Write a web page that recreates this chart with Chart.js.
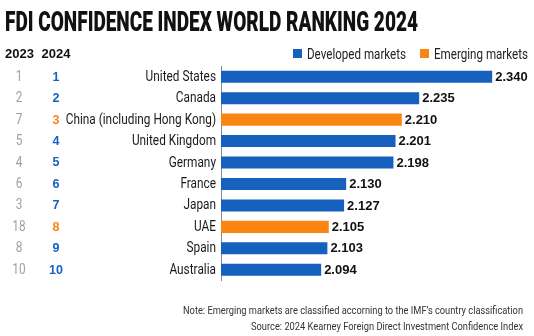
<!DOCTYPE html>
<html>
<head>
<meta charset="utf-8">
<script src="https://cdn.jsdelivr.net/npm/chart.js@4.4.1/dist/chart.umd.min.js"></script>
<style>
  html, body { margin: 0; padding: 0; background: #fff; }
  #wrap { width: 534px; height: 336px; }
</style>
</head>
<body>
<div id="wrap"><canvas id="c" width="534" height="336"></canvas></div>
<script>
// FDI Confidence Index 2024 - top 10 countries
const countries = ['United States', 'Canada', 'China (including Hong Kong)', 'United Kingdom', 'Germany',
                   'France', 'Japan', 'UAE', 'Spain', 'Australia'];
const rank2023 = [1, 2, 7, 5, 4, 6, 3, 18, 8, 10];
const rank2024 = [1, 2, 3, 4, 5, 6, 7, 8, 9, 10];
const scores = [2.340, 2.235, 2.210, 2.201, 2.198, 2.130, 2.127, 2.105, 2.103, 2.094];
const marketType = ['Developed', 'Developed', 'Emerging', 'Developed', 'Developed',
                    'Developed', 'Developed', 'Emerging', 'Developed', 'Developed'];
const legendLabels = ['Developed markets', 'Emerging markets'];

const BLUE = '#1660be';
const ORANGE = '#fb8512';
const colorOf = t => (t === 'Emerging' ? ORANGE : BLUE);

const FONT = 'Roboto, "Liberation Sans", sans-serif';
const SANS = '"Liberation Sans", Arial, sans-serif';
const CONDENSE = 0.845;   // horizontal squeeze for the condensed look

// Draw text squeezed horizontally, either by a fixed factor or to a given width
function drawSqueezed(ctx, text, x, y, align, opts) {
  const w = ctx.measureText(text).width;
  const k = opts.width ? opts.width / w : opts.factor;
  ctx.save();
  ctx.textAlign = 'left';
  let left = x;
  if (align === 'right') left = x - w * k;
  else if (align === 'center') left = x - (w * k) / 2;
  ctx.translate(left, y);
  ctx.scale(k, 1);
  ctx.fillText(text, 0, 0);
  ctx.restore();
}

const overlay = {
  id: 'overlay',
  afterDraw(chart) {
    const ctx = chart.ctx;
    const y = chart.scales.y;
    const meta = chart.getDatasetMeta(0);
    ctx.save();
    ctx.textBaseline = 'alphabetic';

    // Title
    ctx.fillStyle = '#111';
    ctx.font = '900 28.5px ' + FONT;
    drawSqueezed(ctx, 'FDI CONFIDENCE INDEX WORLD RANKING 2024', 5, 30.5, 'left', { width: 413 });

    // Column headers
    ctx.font = 'bold 12.5px ' + SANS;
    ctx.fillStyle = '#111';
    drawSqueezed(ctx, '2023', 5, 58, 'left', { width: 29 });
    drawSqueezed(ctx, '2024', 41.5, 58, 'left', { width: 29 });

    // Legend
    const legendItems = [
      { x: 293, color: BLUE, text: legendLabels[0], w: 99 },
      { x: 420, color: ORANGE, text: legendLabels[1], w: 94 }
    ];
    ctx.font = '14px ' + FONT;
    legendItems.forEach(it => {
      ctx.fillStyle = it.color;
      ctx.fillRect(it.x, 49, 9, 9);
      ctx.fillStyle = '#222';
      drawSqueezed(ctx, it.text, it.x + 14, 58.5, 'left', { width: it.w });
    });

    // Category labels, rank columns and value labels
    ctx.textBaseline = 'middle';
    countries.forEach((c, i) => {
      const py = y.getPixelForValue(i);

      ctx.font = '14px ' + FONT;
      ctx.fillStyle = '#1a1a1a';
      drawSqueezed(ctx, y.getLabelForValue(i), chart.chartArea.left - 5, py + 0.5, 'right', { factor: CONDENSE });

      ctx.fillStyle = '#a0a0a0';
      drawSqueezed(ctx, String(rank2023[i]), 19, py + 0.5, 'center', { factor: CONDENSE });

      ctx.font = 'bold 12.5px ' + SANS;
      ctx.fillStyle = colorOf(marketType[i]);
      drawSqueezed(ctx, String(rank2024[i]), 56, py + 0.5, 'center', { factor: 1 });

      const bar = meta.data[i];
      ctx.fillStyle = '#111';
      ctx.font = 'bold 13px ' + SANS;
      drawSqueezed(ctx, scores[i].toFixed(3), bar.x + 3, py + 0.5, 'left', { factor: 1 });
    });

    // Notes
    ctx.textBaseline = 'alphabetic';
    ctx.fillStyle = '#333';
    ctx.font = '11.5px ' + FONT;
    drawSqueezed(ctx, "Note: Emerging markets are classified accorning to the IMF\u2019s country classification",
                 523, 314, 'right', { width: 340 });
    drawSqueezed(ctx, 'Source: 2024 Kearney Foreign Direct Investment Confidence Index',
                 523, 330, 'right', { width: 272 });
    ctx.restore();
  }
};

new Chart(document.getElementById('c'), {
  type: 'bar',
  data: {
    labels: countries,
    datasets: [{
      data: scores,
      backgroundColor: marketType.map(colorOf),
      borderWidth: 0,
      barPercentage: 0.56,
      categoryPercentage: 1.0
    }]
  },
  options: {
    indexAxis: 'y',
    responsive: false,
    devicePixelRatio: 1,
    animation: false,
    layout: { padding: { left: 0, right: 14, top: 66, bottom: 55.5 } },
    plugins: { legend: { display: false }, tooltip: { enabled: false } },
    scales: {
      x: { type: 'linear', min: 1.95, max: 2.38, display: false },
      y: {
        grid: { display: false, drawTicks: false },
        border: { display: true, color: '#8a8a8a', width: 1 },
        ticks: { display: false },
        afterFit(scale) { scale.width = 221; }
      }
    }
  },
  plugins: [overlay]
});
</script>
</body>
</html>
